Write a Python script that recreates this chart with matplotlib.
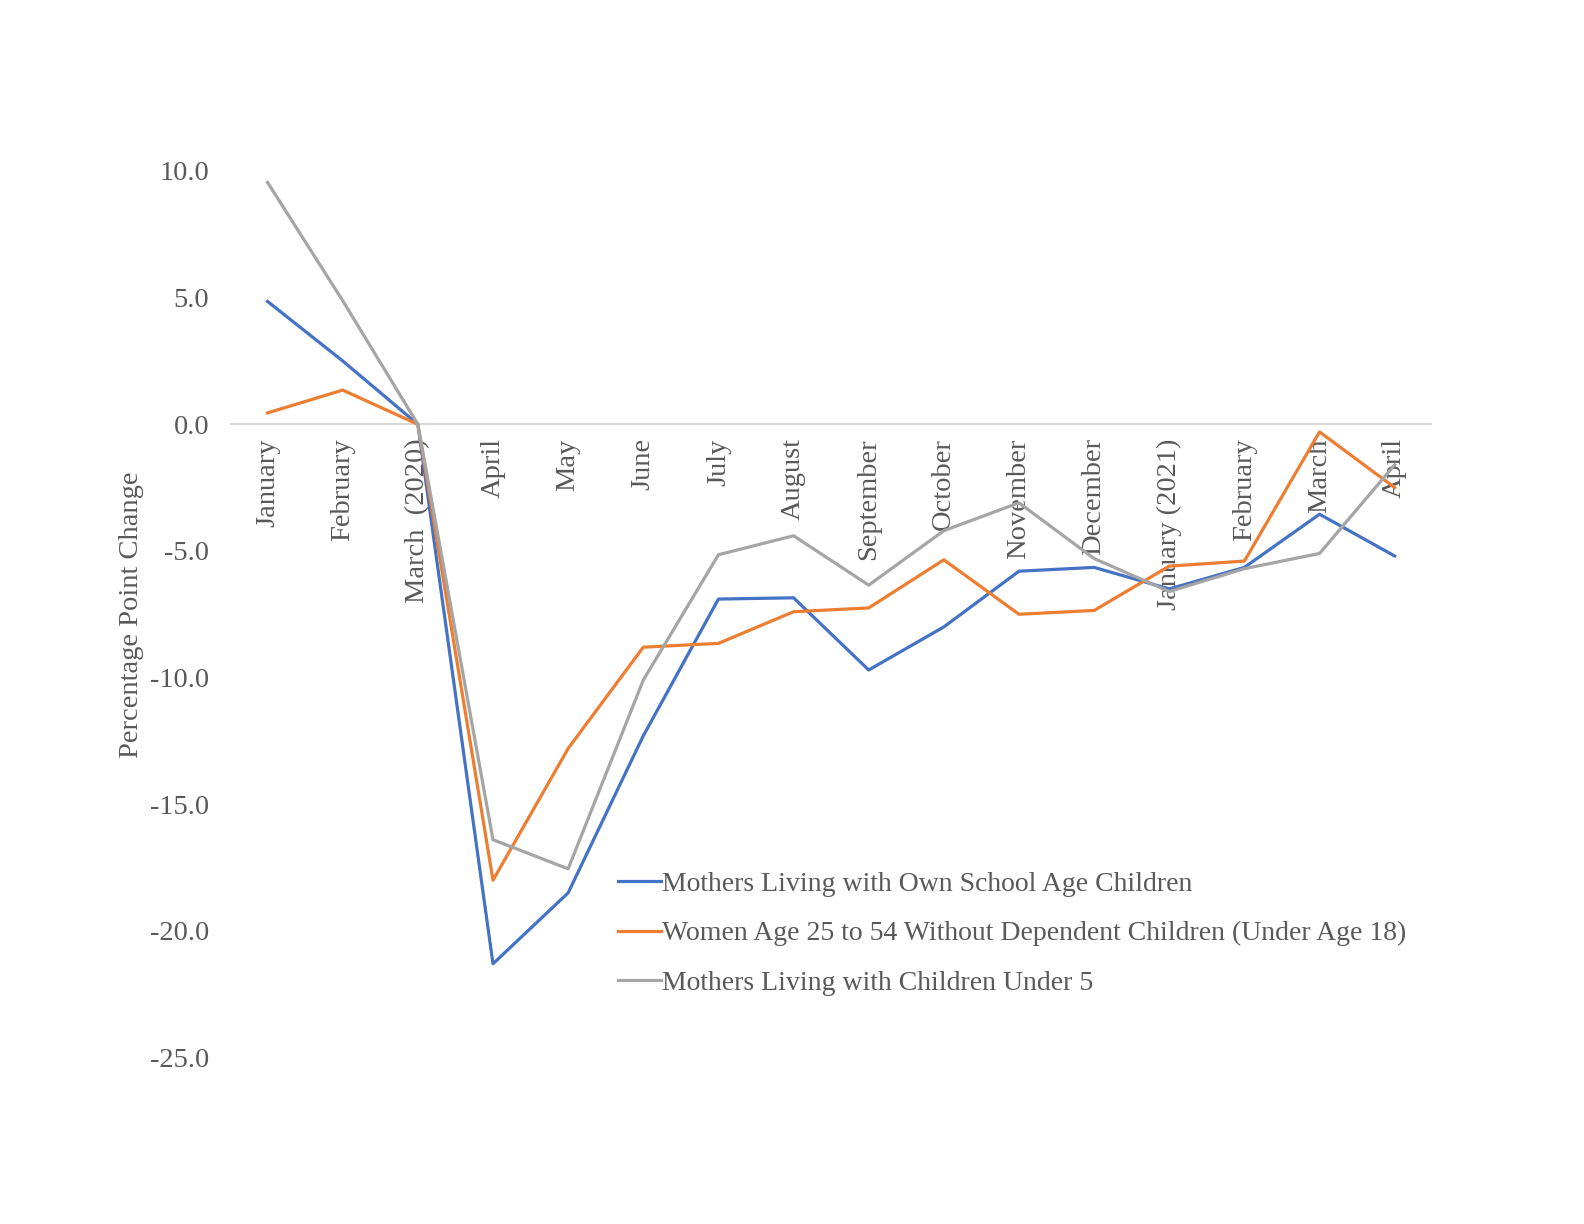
"""Percentage point change in employment, Jan 2020 - Apr 2021"""
import matplotlib
matplotlib.use("Agg")
import matplotlib.pyplot as plt
import matplotlib.transforms as mtransforms

months = ['January', 'February', 'March  (2020)', 'April', 'May', 'June', 'July',
          'August', 'September', 'October', 'November', 'December',
          'January (2021)', 'February', 'March', 'April']

school_age = [4.85, 2.5, 0.0, -21.3, -18.5, -12.3, -6.9, -6.85, -9.7, -8.0,
              -5.8, -5.65, -6.5, -5.65, -3.55, -5.2]
no_children = [0.45, 1.35, 0.0, -18.0, -12.8, -8.8, -8.65, -7.4, -7.25, -5.35,
               -7.5, -7.35, -5.6, -5.4, -0.3, -2.5]
under_five = [9.55, 4.88, 0.0, -16.4, -17.55, -10.1, -5.15, -4.4, -6.35, -4.2,
              -3.1, -5.3, -6.6, -5.7, -5.1, -1.6]

labels = ['Mothers Living with Own School Age Children',
          'Women Age 25 to 54 Without Dependent Children (Under Age 18)',
          'Mothers Living with Children Under 5']

plt.rcParams['font.family'] = ['Liberation Serif', 'DejaVu Serif']
txt_col = '#595959'
fs = 20.5

fig = plt.figure(figsize=(15.84, 12.24), dpi=100)
ax = fig.add_axes([0.1452, 0.136, 0.759, 0.7243])

x = list(range(len(months)))
ax.axhline(0, color='#d9d9d9', lw=1.5, zorder=1)
ax.plot(x, school_age, color='#4472C4', lw=2.3, label=labels[0], zorder=3)
ax.plot(x, no_children, color='#ED7D31', lw=2.3, label=labels[1], zorder=3)
ax.plot(x, under_five, color='#A5A5A5', lw=2.3, label=labels[2], zorder=3)

ax.set_xlim(-0.5, len(months) - 0.5)
ax.set_ylim(-25, 10)
ax.set_yticks([10, 5, 0, -5, -10, -15, -20, -25])
ax.set_yticklabels([f'{v:.1f}' for v in [10, 5, 0, -5, -10, -15, -20, -25]],
                   fontsize=fs, color=txt_col)
ax.tick_params(axis='y', length=0, pad=15)
ax.set_xticks([])
for s in ax.spines.values():
    s.set_visible(False)

# month labels hang just under the zero line
off = mtransforms.offset_copy(ax.transData, fig=fig, x=0, y=-14, units='dots')
for i, m in enumerate(months):
    ax.text(i, 0, m, rotation=90, ha='center', va='top', fontsize=fs,
            color=txt_col, transform=off, zorder=2)

ax.set_ylabel('Percentage Point Change', fontsize=fs, color=txt_col, labelpad=4)

leg = ax.legend(loc='upper left', bbox_to_anchor=(0.383, 0.297),
                bbox_transform=fig.transFigure, frameon=False, fontsize=20,
                handlelength=1.55, handletextpad=0.05, labelspacing=0.86,
                borderaxespad=0)
for t in leg.get_texts():
    t.set_color(txt_col)

fig.savefig('out.png', dpi=100)
